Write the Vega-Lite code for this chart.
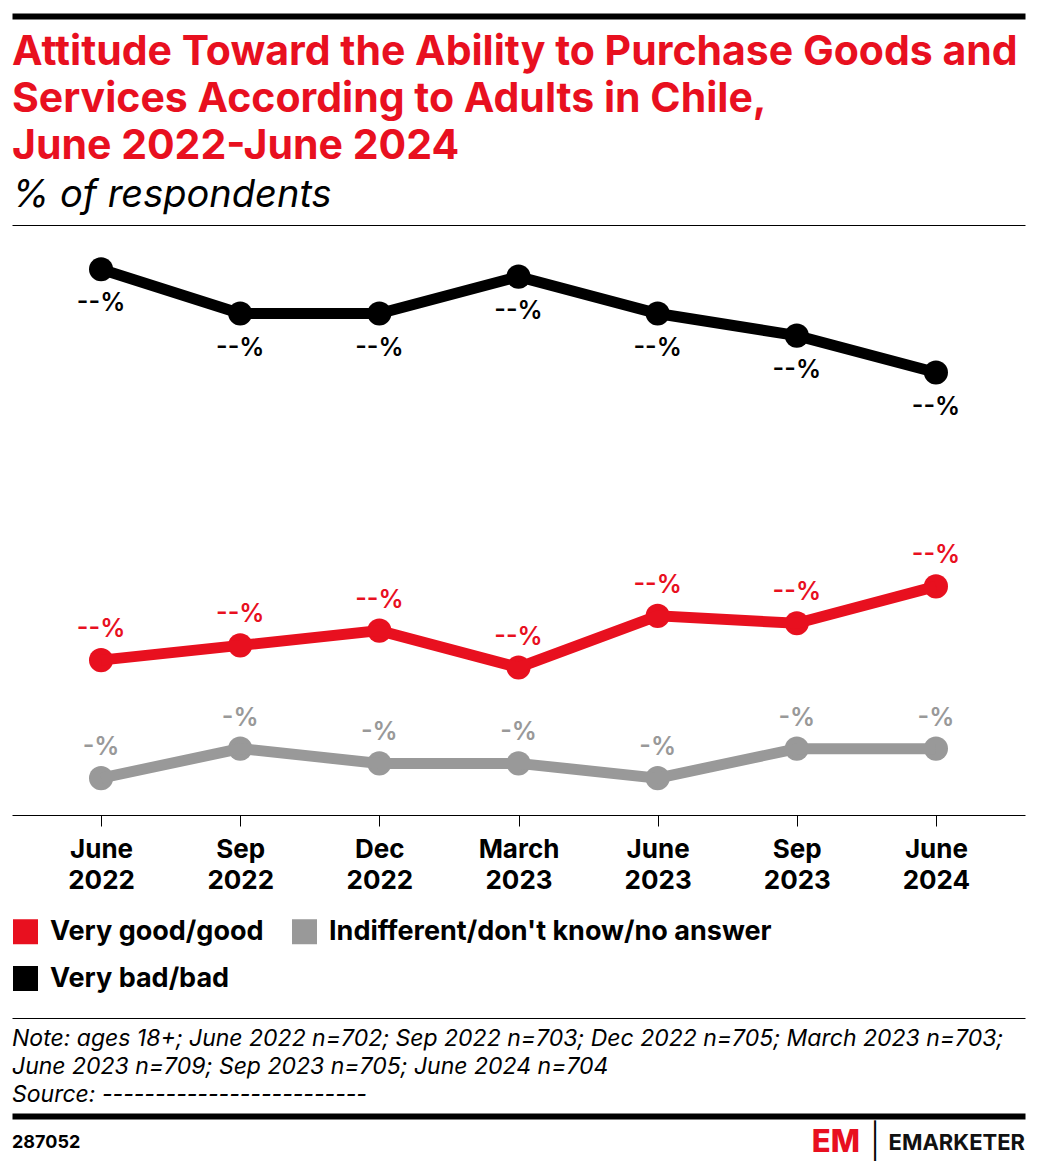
{
  "$schema": "https://vega.github.io/schema/vega-lite/v6.json",
  "padding": {"left": 12, "right": 13, "top": 16, "bottom": 3},
  "background": "#ffffff",
  "spacing": 10,
  "resolve": {
    "scale": {"x": "independent", "y": "independent", "color": "independent"},
    "axis": {"x": "independent", "y": "independent"},
    "legend": {"color": "independent"}
  },
  "config": {
    "view": {"stroke": null},
    "font": "Inter"
  },
  "vconcat": [
    {
      "width": 1013,
      "height": 6,
      "data": {"values": [{"v": 0}, {"v": 1}]},
      "mark": {"type": "point", "opacity": 0, "size": 0, "strokeWidth": 0},
      "encoding": {
        "x": {
          "field": "v", "type": "quantitative",
          "scale": {"domain": [0, 1], "nice": false, "zero": false},
          "axis": {"orient": "top", "domain": true, "domainColor": "#000000", "domainWidth": 6, "ticks": false, "labels": false, "grid": false, "title": null}
        }
      }
    },
    {
      "width": 1013,
      "height": 590,
      "title": {
        "text": ["Attitude Toward the Ability to Purchase Goods and", "Services According to Adults in Chile,", "June 2022-June 2024"],
        "subtitle": "% of respondents",
        "anchor": "start",
        "frame": "group",
        "orient": "top",
        "font": "Inter",
        "fontSize": 41,
        "fontWeight": 700,
        "color": "#E8101F",
        "lineHeight": 47,
        "subtitleFont": "Inter",
        "subtitleFontSize": 38,
        "subtitleFontStyle": "italic",
        "subtitleFontWeight": 400,
        "subtitleColor": "#000000",
        "subtitlePadding": 9,
        "offset": 9
      },
      "data": {
        "values": [
          {"period": "June 2022", "series": "Very good/good", "pct": 21, "label": "--%"},
          {"period": "Sep 2022", "series": "Very good/good", "pct": 23, "label": "--%"},
          {"period": "Dec 2022", "series": "Very good/good", "pct": 25, "label": "--%"},
          {"period": "March 2023", "series": "Very good/good", "pct": 20, "label": "--%"},
          {"period": "June 2023", "series": "Very good/good", "pct": 27, "label": "--%"},
          {"period": "Sep 2023", "series": "Very good/good", "pct": 26, "label": "--%"},
          {"period": "June 2024", "series": "Very good/good", "pct": 31, "label": "--%"},
          {"period": "June 2022", "series": "Indifferent/don't know/no answer", "pct": 5, "label": "-%"},
          {"period": "Sep 2022", "series": "Indifferent/don't know/no answer", "pct": 9, "label": "-%"},
          {"period": "Dec 2022", "series": "Indifferent/don't know/no answer", "pct": 7, "label": "-%"},
          {"period": "March 2023", "series": "Indifferent/don't know/no answer", "pct": 7, "label": "-%"},
          {"period": "June 2023", "series": "Indifferent/don't know/no answer", "pct": 5, "label": "-%"},
          {"period": "Sep 2023", "series": "Indifferent/don't know/no answer", "pct": 9, "label": "-%"},
          {"period": "June 2024", "series": "Indifferent/don't know/no answer", "pct": 9, "label": "-%"},
          {"period": "June 2022", "series": "Very bad/bad", "pct": 74, "label": "--%"},
          {"period": "Sep 2022", "series": "Very bad/bad", "pct": 68, "label": "--%"},
          {"period": "Dec 2022", "series": "Very bad/bad", "pct": 68, "label": "--%"},
          {"period": "March 2023", "series": "Very bad/bad", "pct": 73, "label": "--%"},
          {"period": "June 2023", "series": "Very bad/bad", "pct": 68, "label": "--%"},
          {"period": "Sep 2023", "series": "Very bad/bad", "pct": 65, "label": "--%"},
          {"period": "June 2024", "series": "Very bad/bad", "pct": 60, "label": "--%"}
        ]
      },
      "encoding": {
        "x": {
          "field": "period", "type": "ordinal",
          "sort": ["June 2022", "Sep 2022", "Dec 2022", "March 2023", "June 2023", "Sep 2023", "June 2024"],
          "scale": {"type": "point", "padding": 0.64},
          "axis": {
            "orient": "bottom", "title": null, "labelAngle": 0,
            "domainColor": "#000000", "domainWidth": 1,
            "tickColor": "#000000", "tickSize": 11, "tickWidth": 1,
            "labelFont": "Inter", "labelFontSize": 26, "labelFontWeight": 700, "labelColor": "#000000",
            "labelPadding": 10, "labelLineHeight": 31, "labelBaseline": "top",
            "labelExpr": "split(datum.label, ' ')", "grid": false
          }
        },
        "y": {
          "field": "pct", "type": "quantitative",
          "scale": {"domain": [0, 80], "nice": false, "zero": true},
          "axis": {"values": [80], "grid": true, "gridColor": "#000000", "gridWidth": 1, "gridOpacity": 1, "domain": false, "ticks": false, "labels": false, "title": null}
        }
      },
      "layer": [
        {
          "mark": {"type": "point", "filled": true, "size": 580, "opacity": 1, "strokeWidth": 0},
          "encoding": {
            "color": {
              "field": "series", "type": "nominal",
              "scale": {"domain": ["Very good/good", "Indifferent/don't know/no answer", "Very bad/bad"], "range": ["#E8101F", "#999999", "#000000"]},
              "legend": {
                "orient": "bottom", "direction": "horizontal", "columns": 2, "title": null,
                "symbolType": "square", "symbolSize": 625, "symbolStrokeWidth": 0, "symbolOpacity": 1,
                "labelFont": "Inter", "labelFontSize": 27, "labelFontWeight": 700, "labelColor": "#000000",
                "labelOffset": 11, "columnPadding": 27, "rowPadding": 19, "offset": 25, "padding": 0,
                "labelLimit": 600
              }
            }
          }
        },
        {
          "mark": {"type": "line", "strokeWidth": 11},
          "encoding": {"color": {"field": "series", "type": "nominal", "legend": null}}
        },
        {
          "transform": [{"filter": "datum.series === 'Very bad/bad'"}],
          "mark": {"type": "text", "dy": 34, "fontSize": 25, "fontWeight": 600, "font": "Inter"},
          "encoding": {"text": {"field": "label"}, "color": {"field": "series", "type": "nominal", "legend": null}}
        },
        {
          "transform": [{"filter": "datum.series !== 'Very bad/bad'"}],
          "mark": {"type": "text", "dy": -31, "fontSize": 25, "fontWeight": 600, "font": "Inter"},
          "encoding": {"text": {"field": "label"}, "color": {"field": "series", "type": "nominal", "legend": null}}
        }
      ]
    },
    {
      "width": 1013,
      "height": 16,
      "data": {"values": [{"v": 0}, {"v": 1}]},
      "mark": {"type": "point", "opacity": 0, "size": 0, "strokeWidth": 0},
      "encoding": {
        "x": {
          "field": "v", "type": "quantitative",
          "scale": {"domain": [0, 1], "nice": false, "zero": false},
          "axis": {"orient": "bottom", "domain": true, "domainColor": "#000000", "domainWidth": 1, "ticks": false, "labels": false, "grid": false, "title": null}
        }
      }
    },
    {
      "width": 1013,
      "height": 54,
      "title": {
        "text": ["Note: ages 18+; June 2022 n=702; Sep 2022 n=703; Dec 2022 n=705; March 2023 n=703;", "June 2023 n=709; Sep 2023 n=705; June 2024 n=704", "Source: -------------------------"],
        "orient": "top", "anchor": "start", "frame": "group",
        "font": "Inter", "fontSize": 23, "fontStyle": "italic", "fontWeight": 400, "color": "#000000",
        "lineHeight": 28, "offset": 9
      },
      "data": {
        "values": [
          {"part": "id", "text": "287052"},
          {"part": "logo", "text": "EM"},
          {"part": "sep", "text": "|"},
          {"part": "brand", "text": "EMARKETER"}
        ]
      },
      "layer": [
        {
          "transform": [{"filter": "datum.part === 'id'"}],
          "mark": {"type": "text", "align": "left", "baseline": "middle", "fontSize": 18, "fontWeight": 700, "color": "#000000"},
          "encoding": {
            "x": {"datum": 0, "type": "quantitative", "scale": {"domain": [0, 1], "nice": false, "zero": false},
              "axis": {"orient": "top", "domain": true, "domainColor": "#000000", "domainWidth": 6, "ticks": false, "labels": false, "grid": false, "title": null}},
            "text": {"field": "text"}
          }
        },
        {
          "transform": [{"filter": "datum.part === 'logo'"}],
          "mark": {"type": "text", "align": "right", "baseline": "middle", "fontSize": 31, "fontWeight": 800, "color": "#E8101F"},
          "encoding": {
            "x": {"datum": 0.837, "type": "quantitative",
              "axis": {"orient": "top", "domain": true, "domainColor": "#000000", "domainWidth": 6, "ticks": false, "labels": false, "grid": false, "title": null}},
            "text": {"field": "text"}
          }
        },
        {
          "transform": [{"filter": "datum.part === 'sep'"}],
          "mark": {"type": "text", "align": "center", "baseline": "middle", "fontSize": 34, "fontWeight": 300, "color": "#000000"},
          "encoding": {
            "x": {"datum": 0.852, "type": "quantitative",
              "axis": {"orient": "top", "domain": true, "domainColor": "#000000", "domainWidth": 6, "ticks": false, "labels": false, "grid": false, "title": null}},
            "text": {"field": "text"}
          }
        },
        {
          "transform": [{"filter": "datum.part === 'brand'"}],
          "mark": {"type": "text", "align": "right", "baseline": "middle", "fontSize": 22, "fontWeight": 700, "color": "#111111"},
          "encoding": {
            "x": {"datum": 1, "type": "quantitative",
              "axis": {"orient": "top", "domain": true, "domainColor": "#000000", "domainWidth": 6, "ticks": false, "labels": false, "grid": false, "title": null}},
            "text": {"field": "text"}
          }
        }
      ]
    }
  ]
}
